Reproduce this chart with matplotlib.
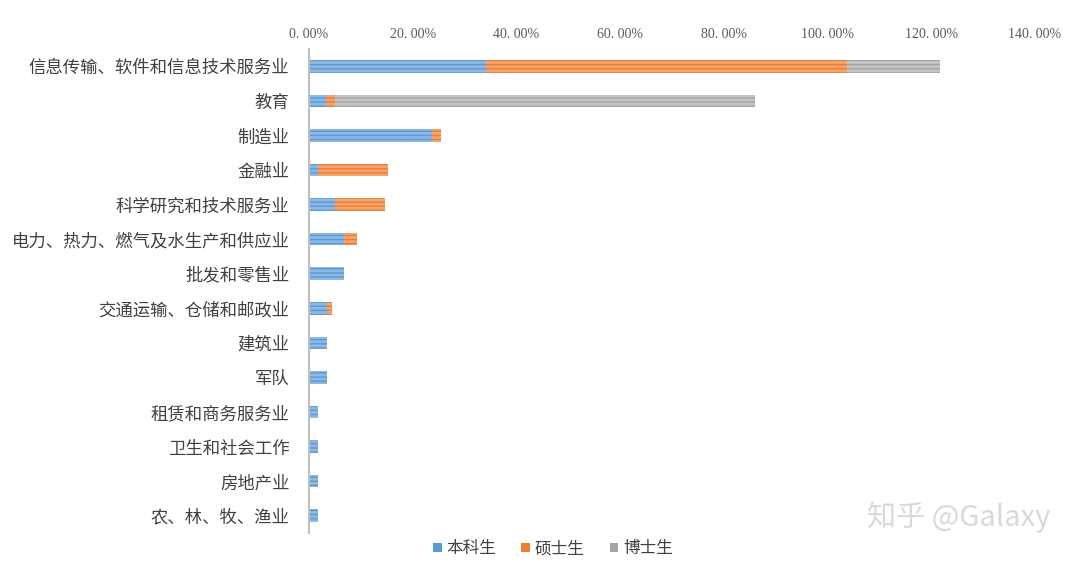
import matplotlib
matplotlib.use("Agg")
import matplotlib.pyplot as plt
from matplotlib.ticker import FuncFormatter
from matplotlib.patches import Patch
import numpy as np

plt.rcParams['font.family'] = ['Noto Sans CJK SC', 'DejaVu Sans']
plt.rcParams['hatch.linewidth'] = 1.0

categories = ["信息传输、软件和信息技术服务业", "教育", "制造业", "金融业",
              "科学研究和技术服务业", "电力、热力、燃气及水生产和供应业",
              "批发和零售业", "交通运输、仓储和邮政业", "建筑业", "军队",
              "租赁和商务服务业", "卫生和社会工作", "房地产业", "农、林、牧、渔业"]
bachelor = [34.1, 3.3, 23.7, 1.7, 5.1, 6.8, 6.8, 3.4, 3.4, 3.4, 1.7, 1.7, 1.7, 1.7]
master   = [69.6, 1.7, 1.7, 13.6, 9.5, 2.5, 0.0, 1.0, 0.0, 0.0, 0.0, 0.0, 0.0, 0.0]
doctor   = [17.9, 81.0, 0.0, 0.0, 0.0, 0.0, 0.0, 0.0, 0.0, 0.0, 0.0, 0.0, 0.0, 0.0]
series_names = ["本科生", "硕士生", "博士生"]
xticks = [0, 20, 40, 60, 80, 100, 120, 140]

face_colors = ["#8DB8E4", "#F4A46E", "#C4C4C4"]
hatch_colors = ["#5B9BD5", "#ED7D31", "#A5A5A5"]
legend_colors = ["#5B9BD5", "#ED7D31", "#A5A5A5"]

fig = plt.figure(figsize=(10.8, 5.65), dpi=100)
ax = fig.add_axes([309/1080, 1-533/565, (1035-309)/1080, 484/565])

y = np.arange(len(categories))
left = np.zeros(len(categories))
for vals, fc, hc in zip([bachelor, master, doctor], face_colors, hatch_colors):
    vals = np.array(vals)
    ax.barh(y, vals, left=left, height=0.36, color=fc, edgecolor=hc,
            linewidth=0, hatch='----')
    left += vals

ax.set_ylim(13.5, -0.5)
ax.set_xlim(0, 140)
ax.set_yticks(y)
ax.set_yticklabels(categories, fontsize=12.5, color="#404040")
ax.set_xticks(xticks)
ax.xaxis.set_major_formatter(FuncFormatter(lambda v, p: f"{v:.2f}%".replace(".", ". ")))
ax.xaxis.tick_top()
ax.tick_params(axis='x', length=0, pad=6, labelsize=10, labelcolor="#595959")
for lab in ax.get_xticklabels():
    lab.set_family(['Liberation Serif', 'DejaVu Serif'])
ax.tick_params(axis='y', length=0, pad=14)
for s in ['top', 'right', 'bottom']:
    ax.spines[s].set_visible(False)
ax.spines['left'].set_color("#BFBFBF")
ax.spines['left'].set_linewidth(1.5)

handles = [Patch(facecolor=c, edgecolor='none') for c in legend_colors]
fig.legend(handles, series_names, loc='center', bbox_to_anchor=(553/1080, 1-549/565),
           ncol=3, frameon=False, fontsize=12, handlelength=0.5, handleheight=0.5,
           handletextpad=0.3, columnspacing=1.5, labelcolor="#404040")

fig.text(1050/1080, 1-517/565, "知乎 @Galaxy", ha='right', va='center',
         fontsize=21, color="#D9D9D9")

fig.savefig("out.png", dpi=100)
